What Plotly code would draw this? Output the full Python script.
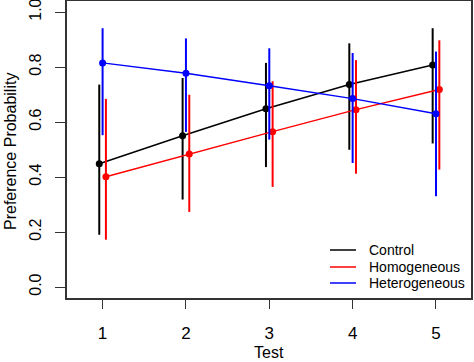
import plotly.graph_objects as go

tests = [1, 2, 3, 4, 5]
tick_labels = ["1", "2", "3", "4", "5"]
series_names = ["Control", "Homogeneous", "Heterogeneous"]
offsets = [-0.04, 0.04, 0.0]
colors = ["#000000", "#FF0000", "#0000FF"]

control_mean = [0.448, 0.550, 0.648, 0.736, 0.807]
control_hi = [0.736, 0.760, 0.815, 0.886, 0.941]
control_lo = [0.190, 0.318, 0.436, 0.499, 0.522]

homog_mean = [0.401, 0.484, 0.565, 0.645, 0.718]
homog_hi = [0.684, 0.699, 0.748, 0.825, 0.897]
homog_lo = [0.172, 0.273, 0.364, 0.412, 0.427]

heter_mean = [0.815, 0.777, 0.732, 0.685, 0.630]
heter_hi = [0.941, 0.904, 0.868, 0.851, 0.856]
heter_lo = [0.552, 0.564, 0.536, 0.451, 0.330]

means = [control_mean, homog_mean, heter_mean]
his = [control_hi, homog_hi, heter_hi]
los = [control_lo, homog_lo, heter_lo]

y_ticks = [0.0, 0.2, 0.4, 0.6, 0.8, 1.0]
y_tick_labels = ["0.0", "0.2", "0.4", "0.6", "0.8", "1.0"]

W, H = 474, 362
ML, MR, MT, MB = 67, 3, 1, 64
PW, PH = W - ML - MR, H - MT - MB


def px_x(px):
    return (px - ML) / PW


def px_y(py):
    return (H - MB - py) / PH


fig = go.Figure()
for name, off, col, m, hi, lo in zip(series_names, offsets, colors, means, his, los):
    xs = [t + off for t in tests]
    fig.add_trace(go.Scatter(
        x=xs, y=m, mode="lines+markers", name=name,
        line=dict(color=col, width=1.5),
        marker=dict(color=col, size=7),
        error_y=dict(type="data", symmetric=False,
                     array=[h - v for h, v in zip(hi, m)],
                     arrayminus=[v - l for v, l in zip(m, lo)],
                     color=col, thickness=2, width=0),
        showlegend=False,
    ))

# manual legend (line samples + labels)
shapes = []
annotations = []
legend_rows = [250, 267, 283]
for name, col, ry in zip(series_names, colors, legend_rows):
    shapes.append(dict(type="line", xref="paper", yref="paper",
                       x0=px_x(330), x1=px_x(356), y0=px_y(ry), y1=px_y(ry),
                       line=dict(color=col, width=1.5)))
    annotations.append(dict(text=name, xref="paper", yref="paper",
                            x=px_x(367), y=px_y(ry), xanchor="left", yanchor="middle",
                            showarrow=False, font=dict(size=14, color="#000000")))

annotations.append(dict(text="Test", xref="paper", yref="paper",
                        x=0.5, y=px_y(352), xanchor="center", yanchor="middle",
                        showarrow=False, font=dict(size=16, color="#000000")))
annotations.append(dict(text="Preference Probability", xref="paper", yref="paper",
                        x=px_x(10), y=px_y(152), xanchor="center", yanchor="middle",
                        textangle=-90, showarrow=False,
                        font=dict(size=16, color="#000000")))

fig.update_layout(
    width=W, height=H,
    margin=dict(l=ML, r=MR, t=MT, b=MB, autoexpand=False),
    paper_bgcolor="white", plot_bgcolor="white",
    font=dict(family="Liberation Sans, Arial, sans-serif", color="#000000"),
    showlegend=False,
    shapes=shapes,
    annotations=annotations,
    xaxis=dict(range=[0.573, 5.42], tickvals=tests, ticktext=tick_labels,
               ticks="outside", ticklen=9, tickwidth=1.2, tickcolor="#333",
               tickfont=dict(size=17), ticklabelstandoff=10, automargin=False,
               showline=True, linecolor="#333",
               linewidth=1.5, mirror=True, showgrid=False, zeroline=False),
    yaxis=dict(range=[-0.04, 1.04], tickvals=y_ticks, ticktext=y_tick_labels,
               ticks="outside", ticklen=10, tickwidth=1.2, tickcolor="#333",
               tickfont=dict(size=16), tickangle=-90, automargin=False,
               ticklabelstandoff=8, ticklabeloverflow="allow",
               showline=True, linecolor="#333", linewidth=1.5, mirror=True,
               showgrid=False, zeroline=False),
)

fig.write_html("out.html", config={"displayModeBar": False},
               post_script="document.body.style.margin='0';")
